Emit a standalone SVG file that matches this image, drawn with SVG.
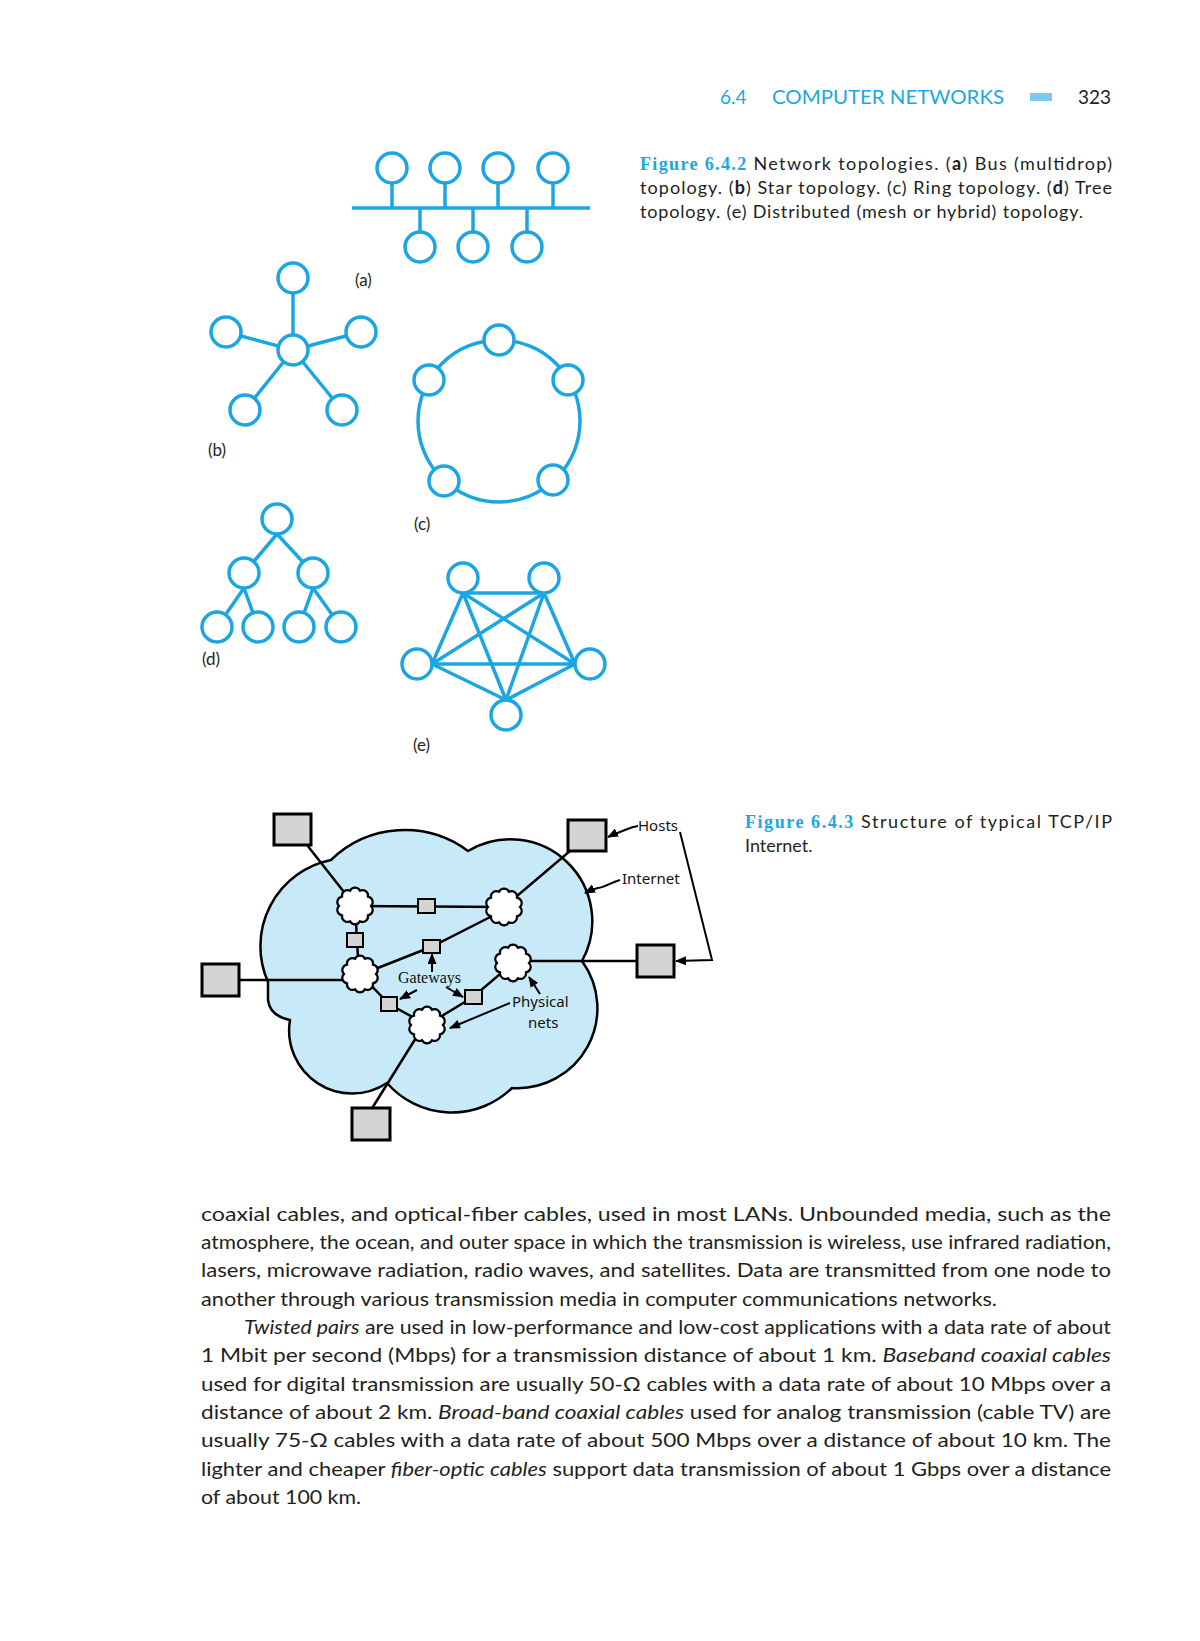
<svg xmlns="http://www.w3.org/2000/svg" xmlns:xlink="http://www.w3.org/1999/xlink" width="1200" height="1641" viewBox="0 0 1200 1641">
<style>
  .topo { fill: none; stroke: #1ba6e2; stroke-width: 3.5; }
  .tn { fill: #ffffff; stroke: #1ba6e2; stroke-width: 3.5; }
  .lbl { font-family: Lato, "Liberation Sans", sans-serif; font-size: 17px; fill: #231f20; }
  .head { font-family: Lato, "Liberation Sans", sans-serif; font-size: 19px; fill: #1aa7e3; }
  .cap { font-family: Lato, "Liberation Sans", sans-serif; font-size: 18px; fill: #231f20; }
  .figno { font-family: "Liberation Serif", serif; font-weight: bold; fill: #1aa7e3; }
  .body { font-family: Lato, "Liberation Sans", sans-serif; font-size: 20px; fill: #231f20; }
  .it { font-style: italic; }
  .cloud { fill: #c8eaf8; stroke: #000; stroke-width: 2.5; stroke-linejoin: round; }
  .wire { fill: none; stroke: #000; stroke-width: 2.5; }
  .arr { fill: none; stroke: #000; stroke-width: 2; marker-end: url(#ah); }
  .blob { fill: #ffffff; stroke: #000; stroke-width: 2.2; }
  .gw { fill: #d4d4d4; stroke: #000; stroke-width: 2; }
  .host { fill: #d4d4d4; stroke: #000; stroke-width: 3; }
  .nl { font-family: "Noto Sans", "Liberation Sans", sans-serif; font-size: 15px; fill: #111; }
  .nls { font-family: "Liberation Serif", serif; font-size: 16px; fill: #111; }
</style>
<defs>
  <marker id="ah" markerUnits="userSpaceOnUse" markerWidth="11" markerHeight="9" refX="10" refY="4.5" orient="auto">
    <path d="M0,0 L11,4.5 L0,9 Z" fill="#000"/>
  </marker>
  <path id="blobshape" d="M16,0 A5.5,5.5 0 0 1 12.94,9.40 A5.5,5.5 0 0 1 4.94,15.22 A5.5,5.5 0 0 1 -4.94,15.22 A5.5,5.5 0 0 1 -12.94,9.40 A5.5,5.5 0 0 1 -16,0 A5.5,5.5 0 0 1 -12.94,-9.40 A5.5,5.5 0 0 1 -4.94,-15.22 A5.5,5.5 0 0 1 4.94,-15.22 A5.5,5.5 0 0 1 12.94,-9.40 A5.5,5.5 0 0 1 16,0 Z"/>
</defs>
<rect width="1200" height="1641" fill="#ffffff"/>

<!-- Header -->
<g id="header">
  <text class="head" x="720" y="104">6.4</text>
  <text class="head" x="772" y="104" textLength="232" lengthAdjust="spacingAndGlyphs">COMPUTER NETWORKS</text>
  <rect x="1030" y="93" width="22" height="8" fill="#7ccbee"/>
  <text class="head" x="1078" y="104" style="fill:#231f20">323</text>
</g>

<!-- Figure 6.4.2 caption -->
<g id="caption-642">
  <text class="cap" x="640" y="170" textLength="472" lengthAdjust="spacing"><tspan class="figno">Figure 6.4.2</tspan> Network topologies. (<tspan font-weight="bold">a</tspan>) Bus (multidrop)</text>
  <text class="cap" x="640" y="194" textLength="472" lengthAdjust="spacing">topology. (<tspan font-weight="bold">b</tspan>) Star topology. (c) Ring topology. (<tspan font-weight="bold">d</tspan>) Tree</text>
  <text class="cap" x="640" y="218" textLength="443" lengthAdjust="spacing">topology. (e) Distributed (mesh or hybrid) topology.</text>
</g>

<!-- (a) Bus topology -->
<g id="topo-a">
  <g id="a-connectors">
    <line class="topo" x1="352" y1="208" x2="590" y2="208"/>
    <line class="topo" x1="392" y1="183" x2="392" y2="208"/>
    <line class="topo" x1="445" y1="183" x2="445" y2="208"/>
    <line class="topo" x1="498" y1="183" x2="498" y2="208"/>
    <line class="topo" x1="553" y1="183" x2="553" y2="208"/>
    <line class="topo" x1="420" y1="208" x2="420" y2="232"/>
    <line class="topo" x1="473" y1="208" x2="473" y2="232"/>
    <line class="topo" x1="527" y1="208" x2="527" y2="232"/>
  </g>
  <g id="a-n1"><circle class="tn" cx="392" cy="168" r="15"/></g>
  <g id="a-n2"><circle class="tn" cx="445" cy="168" r="15"/></g>
  <g id="a-n3"><circle class="tn" cx="498" cy="168" r="15"/></g>
  <g id="a-n4"><circle class="tn" cx="553" cy="168" r="15"/></g>
  <g id="a-n5"><circle class="tn" cx="420" cy="247" r="15"/></g>
  <g id="a-n6"><circle class="tn" cx="473" cy="247" r="15"/></g>
  <g id="a-n7"><circle class="tn" cx="527" cy="247" r="15"/></g>
  <text class="lbl" x="355" y="286">(a)</text>
</g>

<!-- (b) Star topology -->
<g id="topo-b">
  <g id="b-connectors">
    <line class="topo" x1="293" y1="350" x2="293" y2="278"/>
    <line class="topo" x1="293" y1="350" x2="226" y2="332"/>
    <line class="topo" x1="293" y1="350" x2="361" y2="332"/>
    <line class="topo" x1="293" y1="350" x2="245" y2="410"/>
    <line class="topo" x1="293" y1="350" x2="342" y2="410"/>
  </g>
  <g id="b-hub"><circle class="tn" cx="293" cy="350" r="15"/></g>
  <g id="b-n1"><circle class="tn" cx="293" cy="278" r="15"/></g>
  <g id="b-n2"><circle class="tn" cx="226" cy="332" r="15"/></g>
  <g id="b-n3"><circle class="tn" cx="361" cy="332" r="15"/></g>
  <g id="b-n4"><circle class="tn" cx="245" cy="410" r="15"/></g>
  <g id="b-n5"><circle class="tn" cx="342" cy="410" r="15"/></g>
  <text class="lbl" x="208" y="456">(b)</text>
</g>

<!-- (c) Ring topology -->
<g id="topo-c">
  <g id="c-connectors"><circle class="topo" cx="499" cy="421" r="81"/></g>
  <g id="c-n1"><circle class="tn" cx="499" cy="340" r="15"/></g>
  <g id="c-n2"><circle class="tn" cx="429" cy="380" r="15"/></g>
  <g id="c-n3"><circle class="tn" cx="568" cy="380" r="15"/></g>
  <g id="c-n4"><circle class="tn" cx="444" cy="481" r="15"/></g>
  <g id="c-n5"><circle class="tn" cx="553" cy="480" r="15"/></g>
  <text class="lbl" x="414" y="530">(c)</text>
</g>

<!-- (d) Tree topology -->
<g id="topo-d">
  <g id="d-connectors">
    <line class="topo" x1="277" y1="534" x2="244" y2="573"/>
    <line class="topo" x1="277" y1="534" x2="313" y2="573"/>
    <line class="topo" x1="244" y1="588" x2="217" y2="627"/>
    <line class="topo" x1="244" y1="588" x2="258" y2="627"/>
    <line class="topo" x1="313" y1="588" x2="299" y2="627"/>
    <line class="topo" x1="313" y1="588" x2="341" y2="627"/>
  </g>
  <g id="d-n1"><circle class="tn" cx="277" cy="519" r="15"/></g>
  <g id="d-n2"><circle class="tn" cx="244" cy="573" r="15"/></g>
  <g id="d-n3"><circle class="tn" cx="313" cy="573" r="15"/></g>
  <g id="d-n4"><circle class="tn" cx="217" cy="627" r="15"/></g>
  <g id="d-n5"><circle class="tn" cx="258" cy="627" r="15"/></g>
  <g id="d-n6"><circle class="tn" cx="299" cy="627" r="15"/></g>
  <g id="d-n7"><circle class="tn" cx="341" cy="627" r="15"/></g>
  <text class="lbl" x="202" y="665">(d)</text>
</g>

<!-- (e) Mesh topology -->
<g id="topo-e">
  <g id="e-connectors">
    <line class="topo" x1="463" y1="593" x2="544" y2="593"/>
    <line class="topo" x1="463" y1="593" x2="432" y2="664"/>
    <line class="topo" x1="463" y1="593" x2="575" y2="664"/>
    <line class="topo" x1="463" y1="593" x2="506" y2="700"/>
    <line class="topo" x1="544" y1="593" x2="432" y2="664"/>
    <line class="topo" x1="544" y1="593" x2="575" y2="664"/>
    <line class="topo" x1="544" y1="593" x2="506" y2="700"/>
    <line class="topo" x1="432" y1="664" x2="575" y2="664"/>
    <line class="topo" x1="432" y1="664" x2="506" y2="700"/>
    <line class="topo" x1="575" y1="664" x2="506" y2="700"/>
  </g>
  <g id="e-n1"><circle class="tn" cx="463" cy="578" r="15"/></g>
  <g id="e-n2"><circle class="tn" cx="544" cy="578" r="15"/></g>
  <g id="e-n3"><circle class="tn" cx="417" cy="664" r="15"/></g>
  <g id="e-n4"><circle class="tn" cx="590" cy="664" r="15"/></g>
  <g id="e-n5"><circle class="tn" cx="506" cy="715" r="15"/></g>
  <text class="lbl" x="413" y="751">(e)</text>
</g>

<!-- Figure 6.4.3 caption -->
<g id="caption-643">
  <text class="cap" x="745" y="828" textLength="367" lengthAdjust="spacing"><tspan class="figno">Figure 6.4.3</tspan> Structure of typical TCP/IP</text>
  <text class="cap" x="745" y="852">Internet.</text>
</g>

<!-- Figure 6.4.3 TCP/IP Internet -->
<g id="internet-cloud">
  <path class="cloud" d="M331,860 A106,106 0 0 1 468,851 A82,82 0 0 1 582,961 A80,80 0 0 1 512,1088 A86,86 0 0 1 387,1083 A63,63 0 0 1 290,1020 Q270,1016 268,1000 L268,982 A88,88 0 0 1 331,860 Z"/>
</g>

<g id="net-connectors">
  <line class="wire" x1="307" y1="845" x2="355" y2="906"/>
  <line class="wire" x1="355" y1="906" x2="504" y2="907"/>
  <line class="wire" x1="355" y1="906" x2="359" y2="974"/>
  <polyline class="wire" points="360,975 431,947 504,910"/>
  <line class="wire" x1="238" y1="980" x2="350" y2="980"/>
  <polyline class="wire" points="360,974 389,1004 427,1025"/>
  <polyline class="wire" points="513,963 473,997 427,1025"/>
  <line class="wire" x1="424" y1="1025" x2="371" y2="1110"/>
  <line class="wire" x1="570" y1="851" x2="504" y2="907"/>
  <line class="wire" x1="513" y1="961" x2="637" y2="961"/>
  <path class="arr" d="M638,826 C630,827 626,830 620,832 C615,834 612,835 608,837"/>
  <polyline class="arr" points="680,832 712,960 676,961"/>
  <path class="arr" d="M620,880 C610,883 605,887 598,888 C592,889 589,891 585,893"/>
  <line class="arr" x1="432" y1="972" x2="432" y2="954"/>
  <line class="arr" x1="417" y1="990" x2="400" y2="999"/>
  <line class="arr" x1="446" y1="987" x2="463" y2="997"/>
  <line class="arr" x1="510" y1="1003" x2="450" y2="1028"/>
  <line class="arr" x1="540" y1="994" x2="529" y2="977"/>
</g>

<g id="net-A"><use xlink:href="#blobshape" href="#blobshape" class="blob" x="355" y="906"/></g>
<g id="net-B"><use xlink:href="#blobshape" href="#blobshape" class="blob" x="360" y="974"/></g>
<g id="net-C"><use xlink:href="#blobshape" href="#blobshape" class="blob" x="427" y="1025"/></g>
<g id="net-D"><use xlink:href="#blobshape" href="#blobshape" class="blob" x="504" y="907"/></g>
<g id="net-E"><use xlink:href="#blobshape" href="#blobshape" class="blob" x="513" y="963"/></g>

<g id="gw-1"><rect class="gw" x="418" y="899" width="17" height="14"/></g>
<g id="gw-2"><rect class="gw" x="347" y="933" width="16" height="14"/></g>
<g id="gw-3"><rect class="gw" x="423" y="940" width="17" height="13"/></g>
<g id="gw-4"><rect class="gw" x="381" y="997" width="16" height="14"/></g>
<g id="gw-5"><rect class="gw" x="465" y="990" width="17" height="14"/></g>

<g id="host-tl"><rect class="host" x="274" y="814" width="37" height="31"/></g>
<g id="host-tr"><rect class="host" x="568" y="820" width="38" height="31"/></g>
<g id="host-l"><rect class="host" x="202" y="964" width="37" height="32"/></g>
<g id="host-r"><rect class="host" x="637" y="945" width="37" height="32"/></g>
<g id="host-b"><rect class="host" x="352" y="1108" width="38" height="32"/></g>

<g id="net-labels">
  <text class="nl" x="638" y="831">Hosts</text>
  <text class="nl" x="622" y="884">Internet</text>
  <text class="nls" x="398" y="983">Gateways</text>
  <text class="nl" x="512" y="1007">Physical</text>
  <text class="nl" x="528" y="1028">nets</text>
</g>

<!-- Body text -->
<g id="body-text">
  <text class="body" x="201" y="1221" textLength="910" lengthAdjust="spacingAndGlyphs">coaxial cables, and optical-fiber cables, used in most LANs. Unbounded media, such as the</text>
  <text class="body" x="201" y="1249" textLength="910" lengthAdjust="spacingAndGlyphs">atmosphere, the ocean, and outer space in which the transmission is wireless, use infrared radiation,</text>
  <text class="body" x="201" y="1277" textLength="910" lengthAdjust="spacingAndGlyphs">lasers, microwave radiation, radio waves, and satellites. Data are transmitted from one node to</text>
  <text class="body" x="201" y="1306" textLength="796" lengthAdjust="spacingAndGlyphs">another through various transmission media in computer communications networks.</text>
  <text class="body" x="244" y="1334" textLength="867" lengthAdjust="spacingAndGlyphs"><tspan class="it">Twisted pairs</tspan> are used in low-performance and low-cost applications with a data rate of about</text>
  <text class="body" x="201" y="1362" textLength="910" lengthAdjust="spacingAndGlyphs">1 Mbit per second (Mbps) for a transmission distance of about 1 km. <tspan class="it">Baseband coaxial cables</tspan></text>
  <text class="body" x="201" y="1391" textLength="910" lengthAdjust="spacingAndGlyphs">used for digital transmission are usually 50-Ω cables with a data rate of about 10 Mbps over a</text>
  <text class="body" x="201" y="1419" textLength="910" lengthAdjust="spacingAndGlyphs">distance of about 2 km. <tspan class="it">Broad-band coaxial cables</tspan> used for analog transmission (cable TV) are</text>
  <text class="body" x="201" y="1447" textLength="910" lengthAdjust="spacingAndGlyphs">usually 75-Ω cables with a data rate of about 500 Mbps over a distance of about 10 km. The</text>
  <text class="body" x="201" y="1476" textLength="910" lengthAdjust="spacingAndGlyphs">lighter and cheaper <tspan class="it">fiber-optic cables</tspan> support data transmission of about 1 Gbps over a distance</text>
  <text class="body" x="201" y="1504" textLength="160" lengthAdjust="spacingAndGlyphs">of about 100 km.</text>
</g>
</svg>
